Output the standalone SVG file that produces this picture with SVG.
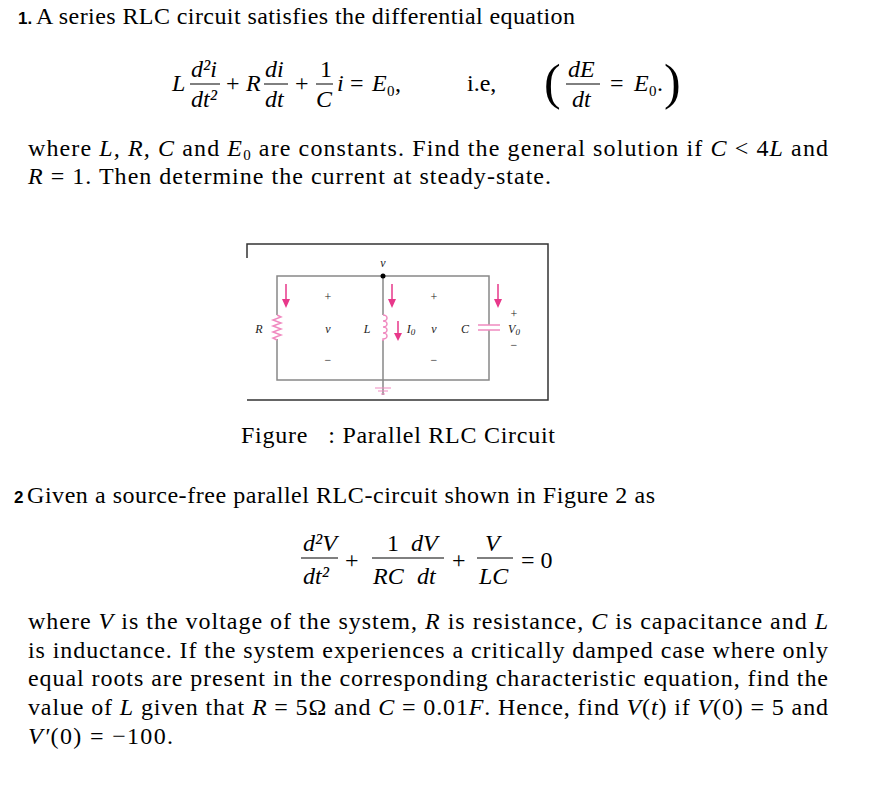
<svg xmlns="http://www.w3.org/2000/svg" width="892" height="804" viewBox="0 0 892 804">
<style>
.t{font-family:"Liberation Serif",serif;font-size:24px;fill:#000}
.i{font-style:italic}
.b{font-family:"Liberation Sans",sans-serif;font-weight:bold;font-size:17px}
.w{stroke:#888;stroke-width:1.5;fill:none}
.p{stroke:#e8388a;stroke-width:1.5;fill:none}
.h{fill:#e8388a}
.c{font-family:"Liberation Serif",serif;font-size:12px;fill:#222}
.f{stroke:#000;stroke-width:1}
</style>
<rect width="892" height="804" fill="#fff"/>
<g id="q1">
<text x="18" y="24" class="b">1.</text><text x="36" y="24" class="t" textLength="539">A series RLC circuit satisfies the differential equation</text>
<g class="t">
<text x="172" y="91" class="i">L</text>
<text x="191" y="77" class="i">d²i</text><line x1="190" y1="84" x2="220" y2="84" class="f"/><text x="191" y="107" class="i">dt²</text>
<text x="226" y="91">+</text><text x="246" y="91" class="i">R</text>
<text x="265" y="77" class="i">di</text><line x1="264" y1="84" x2="288" y2="84" class="f"/><text x="265" y="107" class="i">dt</text>
<text x="295" y="91">+</text>
<text x="320" y="77">1</text><line x1="316" y1="84" x2="333" y2="84" class="f"/><text x="316" y="107" class="i">C</text>
<text x="337" y="91" class="i">i</text><text x="350" y="91">=</text><text x="372" y="91" class="i">E</text><text x="387" y="96" style="font-size:15px">0</text><text x="395" y="91">,</text>
<text x="467" y="91">i.e,</text>
<text x="544" y="99" style="font-size:50px;font-weight:300">(</text>
<text x="568" y="77" class="i">dE</text><line x1="566" y1="84" x2="600" y2="84" class="f"/><text x="572" y="107" class="i">dt</text>
<text x="610" y="91">=</text><text x="634" y="91" class="i">E</text><text x="649" y="96" style="font-size:15px">0</text><text x="657" y="91">.</text>
<text x="664" y="99" style="font-size:50px;font-weight:300">)</text>
</g>
<text x="28" y="156" class="t" textLength="800">where <tspan class="i">L, R, C</tspan> and <tspan class="i">E</tspan><tspan style="font-size:15px" dy="4">0</tspan><tspan dy="-4"> are constants.  Find the general solution if </tspan><tspan class="i">C</tspan> &lt; 4<tspan class="i">L</tspan> and</text>
<text x="28" y="184" class="t" textLength="523"><tspan class="i">R</tspan> = 1. Then determine the current at steady-state.</text>
</g>
<g id="figure">
<path d="M247,258 V244 H548 V400 H247" stroke="#333" stroke-width="1.5" fill="none"/>
<path class="w" d="M277,315 V276 H489 V325 M489,330 V380 H277 V339 M383,276 V315 M383,340 V395"/>
<path d="M277,315 l4,2 l-8,3 l8,3 l-8,3 l8,3 l-8,3 l8,3 l-8,3 l4,2" stroke="#f08ac0" stroke-width="1.5" fill="none"/>
<path d="M383,315 a4,3 0 1 1 0,6 a4,3 0 1 1 0,6 a4,3 0 1 1 0,6 a4,3 0 1 1 0,6 v2" stroke="#f08ac0" stroke-width="1.5" fill="none"/>
<path d="M478,325 H500 M478,330 H500" stroke="#f08ac0" stroke-width="1.5"/>
<path d="M375,388 H391 M378,391 H388 M381,394 H385" stroke="#f08ac0" stroke-width="1.2"/>
<circle cx="383" cy="276" r="2.5" fill="#000"/>
<path class="p" d="M286,284 V300 M392,284 V300 M498,284 V300 M398,321 V334"/>
<path class="h" d="M282,299 L290,299 L286,308 Z M388,299 L396,299 L392,308 Z M494,299 L502,299 L498,308 Z M394,333 L402,333 L398,341 Z"/>
<g class="c" text-anchor="middle">
<text x="383" y="267" class="i">v</text>
<text x="259" y="333" class="i">R</text>
<text x="328" y="301">+</text><text x="328" y="333" class="i">v</text><text x="328" y="364">−</text>
<text x="367" y="333" class="i">L</text><text x="411" y="333" class="i">I<tspan dy="2" style="font-size:9px">0</tspan></text>
<text x="434" y="301">+</text><text x="434" y="333" class="i">v</text><text x="434" y="364">−</text>
<text x="465" y="333" class="i">C</text>
<text x="514" y="318">+</text><text x="514" y="333" class="i">V<tspan dy="2" style="font-size:9px">0</tspan></text><text x="514" y="349">−</text>
</g>
<text x="241" y="443" class="t" textLength="314" xml:space="preserve">Figure   : Parallel RLC Circuit</text>
</g>
<g id="q2">
<text x="14" y="503" class="b">2</text><text x="27" y="503" class="t" textLength="628">Given a source-free parallel RLC-circuit shown in Figure 2 as</text>
<g class="t">
<text x="303" y="551" class="i">d²V</text><line x1="301" y1="558" x2="338" y2="558" class="f"/><text x="303" y="584" class="i">dt²</text>
<text x="345" y="568">+</text>
<text x="387" y="551">1</text><text x="411" y="551" class="i">dV</text><line x1="372" y1="558" x2="444" y2="558" class="f"/><text x="373" y="584" class="i">RC</text><text x="417" y="584" class="i">dt</text>
<text x="452" y="568">+</text>
<text x="485" y="551" class="i">V</text><line x1="477" y1="558" x2="513" y2="558" class="f"/><text x="479" y="584" class="i">LC</text>
<text x="521" y="568">= 0</text>
</g>
<text x="28" y="629" class="t" textLength="800">where <tspan class="i">V</tspan> is the voltage of the system, <tspan class="i">R</tspan> is resistance, <tspan class="i">C</tspan> is capacitance and <tspan class="i">L</tspan></text>
<text x="28" y="658" class="t" textLength="800">is inductance.  If the system experiences a critically damped case where only</text>
<text x="28" y="686" class="t" textLength="800">equal roots are present in the corresponding characteristic equation, find the</text>
<text x="28" y="715" class="t" textLength="800">value of <tspan class="i">L</tspan> given that <tspan class="i">R</tspan> = 5Ω and <tspan class="i">C</tspan> = 0.01<tspan class="i">F</tspan>. Hence, find <tspan class="i">V</tspan>(<tspan class="i">t</tspan>) if <tspan class="i">V</tspan>(0) = 5 and</text>
<text x="28" y="744" class="t" textLength="145"><tspan class="i">V′</tspan>(0) = −100.</text>
</g>
</svg>
